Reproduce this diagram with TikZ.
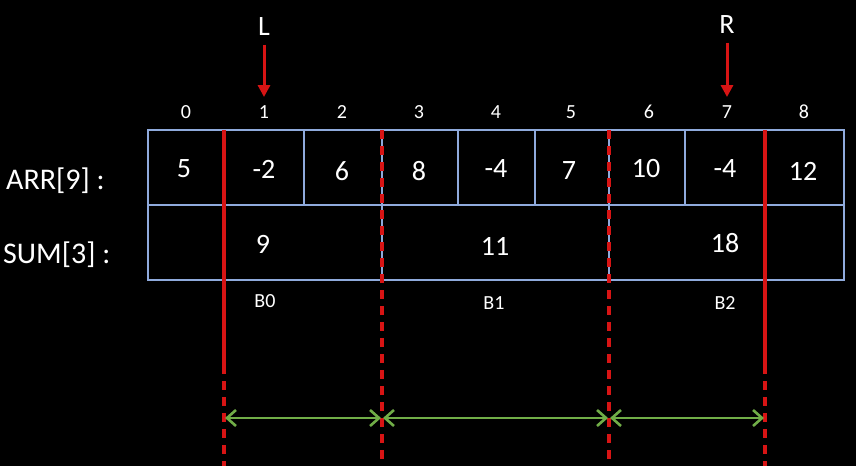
\documentclass[tikz,border=0pt]{standalone}
\usepackage{fontspec}
\setmainfont{Carlito}
\usetikzlibrary{arrows.meta}
\definecolor{gridblue}{RGB}{143,170,220}
\definecolor{sepred}{RGB}{215,20,20}
\definecolor{spangreen}{RGB}{112,173,71}

\begin{document}
\begin{tikzpicture}[x=1pt,y=-1pt]
    \tikzstyle{cellline} = [draw=gridblue, line width=1.8pt]
    \tikzstyle{sep} = [draw=sepred, line width=3.2pt]
    \tikzstyle{sepdash} = [sep, dash pattern=on 9pt off 7pt]
    \tikzstyle{ptr} = [-{Triangle[length=12pt,width=12pt]}, draw=sepred,
        line width=3pt, shorten <=5pt, shorten >=5pt]
    \tikzstyle{span} = [{Straight Barb[length=9pt,width=16pt]}-{Straight
        Barb[length=9pt,width=16pt]}, draw=spangreen, line width=2.6pt,
        shorten <=1pt, shorten >=1pt]
    \tikzstyle{val} = [text=white, font=\fontsize{28}{31}\selectfont]
    \tikzstyle{idx} = [text=white, font=\fontsize{20}{23}\selectfont]
    \tikzstyle{lbl} = [text=white, font=\fontsize{30}{34}\selectfont,
        inner sep=0pt]

    \fill[black] (0,0) rectangle (856,466);
    \useasboundingbox (0,0) rectangle (856,466);

    % grid
    \draw[cellline] (148,130) rectangle (844,280);
    \draw[cellline] (148,205) -- (844,205);
    \draw[cellline] (224,130) -- (224,205);
    \draw[cellline] (304,130) -- (304,205);
    \draw[cellline] (382,130) -- (382,280);
    \draw[cellline] (458,130) -- (458,205);
    \draw[cellline] (535,130) -- (535,205);
    \draw[cellline] (609,130) -- (609,280);
    \draw[cellline] (685,130) -- (685,205);
    \draw[cellline] (765,130) -- (765,205);

    \node(arrlabel) [lbl] at (6,181) [anchor=west] {ARR[9] :};
    \node(sumlabel) [lbl] at (3,255) [anchor=west] {SUM[3] :};

    \node(idx0) [idx] at (186,112) {0};
    \node(idx1) [idx] at (264,112) {1};
    \node(idx2) [idx] at (342,112) {2};
    \node(idx3) [idx] at (419,112) {3};
    \node(idx4) [idx] at (496,112) {4};
    \node(idx5) [idx] at (571,112) {5};
    \node(idx6) [idx] at (649,112) {6};
    \node(idx7) [idx] at (727,112) {7};
    \node(idx8) [idx] at (804,112) {8};

    \node(arr0) [val] at (184,169) {5};
    \node(arr1) [val] at (264,169) {-2};
    \node(arr2) [val] at (342,171) {6};
    \node(arr3) [val] at (419,171) {8};
    \node(arr4) [val] at (496,169) {-4};
    \node(arr5) [val] at (569,171) {7};
    \node(arr6) [val] at (646,169) {10};
    \node(arr7) [val] at (725,169) {-4};
    \node(arr8) [val] at (803,171) {12};

    \node(sum0) [val] at (263,244) {9};
    \node(sum1) [val] at (495,246) {11};
    \node(sum2) [val] at (725,243) {18};

    \node(blk0) [idx] at (265,301) {B0};
    \node(blk1) [idx] at (494,303) {B1};
    \node(blk2) [idx] at (725,303) {B2};

    \node(left) [val] at (264,27) {L};
    \node(right) [val] at (727,25) {R};
    \draw[ptr] (left) -- (idx1);
    \draw[ptr] (right) -- (idx7);

    % block separators
    \coordinate(sepa0) at (224,130);
    \coordinate(sepa1) at (224,365);
    \coordinate(sepa2) at (224,466);
    \coordinate(sepb0) at (382,130);
    \coordinate(sepb2) at (382,466);
    \coordinate(sepc0) at (609,130);
    \coordinate(sepc2) at (609,466);
    \coordinate(sepd0) at (765,130);
    \coordinate(sepd1) at (765,365);
    \coordinate(sepd2) at (765,466);

    \draw[sep] (sepa0) -- (sepa1);
    \draw[sepdash] (sepa1) -- (sepa2);
    \draw[sepdash] (sepb0) -- (sepb2);
    \draw[sepdash] (sepc0) -- (sepc2);
    \draw[sep] (sepd0) -- (sepd1);
    \draw[sepdash] (sepd1) -- (sepd2);

    \coordinate(spana) at (224,418);
    \coordinate(spanb) at (382,418);
    \coordinate(spanc) at (609,418);
    \coordinate(spand) at (765,418);
    \draw[span] (spana) -- (spanb);
    \draw[span] (spanb) -- (spanc);
    \draw[span] (spanc) -- (spand);
\end{tikzpicture}
\end{document}
